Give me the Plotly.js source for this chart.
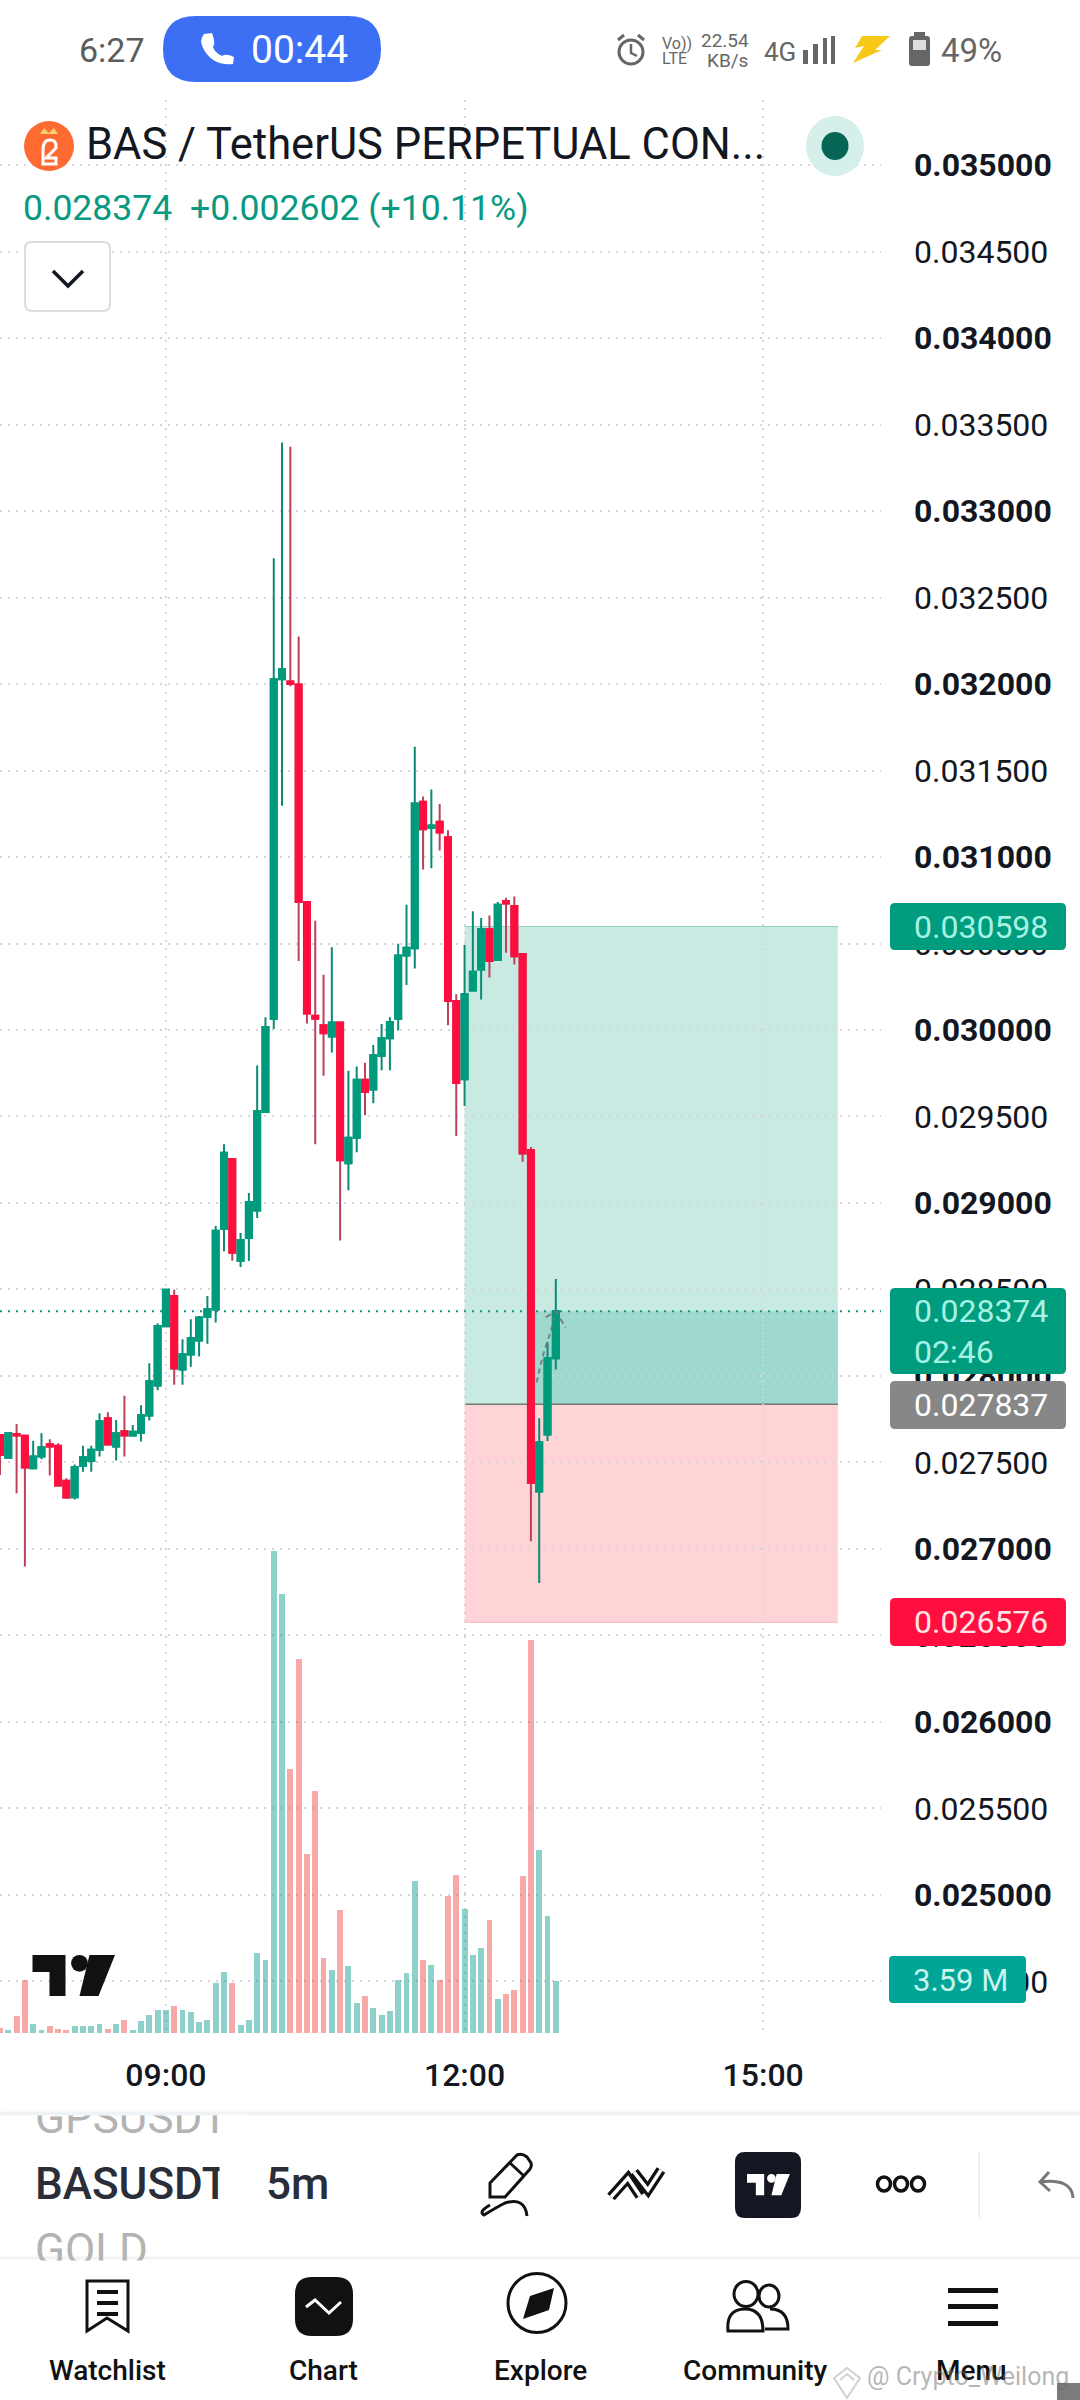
<!DOCTYPE html>
<html>
<head>
<meta charset="utf-8">
<script src="https://cdn.plot.ly/plotly-3.0.1.min.js"></script>
<style>html,body{margin:0;padding:0;background:#fff}#chart{width:1080px;height:2400px}</style>
</head>
<body>
<div id="chart"></div>
<script>
const times = ['07:20','07:25','07:30','07:35','07:40','07:45','07:50','07:55','08:00','08:05','08:10','08:15','08:20','08:25','08:30','08:35','08:40','08:45','08:50','08:55',
'09:00','09:05','09:10','09:15','09:20','09:25','09:30','09:35','09:40','09:45','09:50','09:55','10:00','10:05','10:10','10:15','10:20','10:25','10:30','10:35',
'10:40','10:45','10:50','10:55','11:00','11:05','11:10','11:15','11:20','11:25','11:30','11:35','11:40','11:45','11:50','11:55','12:00','12:05','12:10','12:15',
'12:20','12:25','12:30','12:35','12:40','12:45','12:50','12:55'];
const opens = [.027659,.027528,.027665,.027654,.027467,.027534,.027605,.027596,.027394,.027299,.02748,.027509,.027573,.027756,.027592,.027681,.027656,.027671,.027771,.027945,
.028288,.028463,.028037,.028124,.028205,.028343,.028384,.028851,.029254,.028666,.028798,.028956,.029526,.030065,.032028,.032015,.031997,.03074,.030083,.030028,
.029962,.030043,.029229,.029377,.029712,.029656,.029851,.029953,.030065,.03043,.030473,.031319,.031167,.031204,.031114,.030167,.029715,.030229,.03035,.030582,
.030405,.030745,.030717,.030439,.029306,.027332,.027661,.028102];
const highs = [.027659,.027669,.027723,.027654,.027625,.027669,.027634,.027611,.027409,.027488,.027596,.027596,.027785,.02779,.027746,.027885,.027717,.027831,.028074,.028305,
.028498,.028498,.028212,.028328,.028347,.028463,.028867,.02934,.029254,.028827,.029058,.029795,.030074,.032727,.033396,.033371,.032275,.03074,.030631,.030319,
.030479,.030049,.029764,.029789,.029811,.029913,.030034,.030074,.030498,.030724,.031637,.03135,.03139,.031306,.031154,.030207,.030492,.030687,.030647,.030662,
.03074,.030765,.030772,.030439,.029323,.027756,.028197,.02856];
const lows = [.027428,.027528,.027322,.026898,.027461,.027519,.027424,.027367,.027291,.027286,.027447,.027447,.027534,.027604,.027511,.027534,.027656,.027621,.027742,.027918,
.028288,.02795,.02795,.028054,.028112,.028187,.028309,.028721,.028666,.02863,.028665,.028913,.029526,.030006,.031297,.031987,.030399,.030037,.02934,.029736,
.02987,.028783,.029074,.029294,.029507,.029576,.029767,.029767,.029997,.03026,.030356,.030928,.030935,.031037,.030028,.029387,.02956,.030229,.030176,.030303,
.030399,.030446,.030378,.029238,.027044,.026803,.027624,.028038];
const closes = [.027544,.027669,.027656,.027471,.027534,.027588,.027592,.027367,.027297,.027473,.02753,.027573,.027738,.027604,.027669,.027656,.027677,.027773,.02797,.028289,
.028498,.028043,.028126,.028218,.028338,.028386,.02884,.029291,.028712,.028786,.029006,.029532,.030018,.032028,.032086,.032,.03074,.030096,.030065,.029981,
.030043,.029247,.029377,.029712,.029641,.029854,.029953,.030046,.03043,.030476,.031309,.031161,.031182,.031142,.030167,.029693,.030207,.030337,.030582,.030399,
.030724,.030731,.030426,.029286,.027383,.027617,.028102,.028374];
const volumes = [.37,.23,1.15,3.68,.60,.23,.46,.30,.23,.46,.51,.46,.64,.30,.60,.92,.18,.81,1.22,1.61,
1.56,1.84,1.61,1.43,.74,.92,3.45,4.23,3.45,.53,.92,5.54,5.01,33.24,30.27,18.24,25.78,12.37,16.68,5.20,
4.32,8.46,4.60,2.09,2.53,1.75,1.22,1.54,3.68,4.16,10.51,5.01,4.67,3.68,9.43,10.88,8.56,5.41,5.89,7.77,
2.37,2.71,2.99,10.81,27.09,12.65,8.05,3.59];
const priceTicks = [.035,.0345,.034,.0335,.033,.0325,.032,.0315,.031,.0305,.03,.0295,.029,.0285,.028,.0275,.027,.0265,.026,.0255,.025,.0245];
const priceTickLabels = ['<b>0.035000</b>','0.034500','<b>0.034000</b>','0.033500','<b>0.033000</b>','0.032500','<b>0.032000</b>','0.031500','<b>0.031000</b>','0.030500','<b>0.030000</b>','0.029500','<b>0.029000</b>','0.028500','<b>0.028000</b>','0.027500','<b>0.027000</b>','0.026500','<b>0.026000</b>','0.025500','<b>0.025000</b>','0.024500'];
const timeTicks = ['09:00','12:00','15:00'];
const targetPrice = .030598, entryPrice = .027837, stopPrice = .026576, lastPrice = .028374;
const arrowTimes = ['12:43:30','12:47','12:52','12:55'];
const arrowPrices = [.027963,.028109,.028262,.028374];
const arrowHeadTimes = ['12:49','12:55','13:01'];
const arrowHeadPrices = [.02834,.028374,.028279];

const D = t => '2024-01-01 ' + t;
const GREEN = '#009a7d', RED = '#fc0f3f';
const xs = times.map(D);
const isUp = i => closes[i] >= opens[i];

const traces = [
  {type:'bar', x:xs, y:volumes, yaxis:'y2', width:213000,
   marker:{color:volumes.map((v,i)=>isUp(i)?'rgba(38,166,154,.52)':'rgba(239,83,80,.5)'), line:{width:0}}, hoverinfo:'skip', showlegend:false},
  {type:'candlestick', x:xs, open:opens, high:highs, low:lows, close:closes, yaxis:'y', whiskerwidth:0,
   increasing:{line:{color:'#0b8a74',width:2}, fillcolor:GREEN}, decreasing:{line:{color:'#bd4159',width:2}, fillcolor:RED}, hoverinfo:'skip', showlegend:false},
  {type:'candlestick', x:xs, open:opens, close:closes, yaxis:'y', whiskerwidth:0,
   high:opens.map((o,i)=>Math.max(o,closes[i])), low:opens.map((o,i)=>Math.min(o,closes[i])),
   increasing:{line:{color:GREEN,width:2}, fillcolor:GREEN}, decreasing:{line:{color:RED,width:2}, fillcolor:RED}, hoverinfo:'skip', showlegend:false},
  {type:'scatter', mode:'lines', x:arrowTimes.map(D), y:arrowPrices, yaxis:'y', line:{color:'rgba(110,116,128,.85)',width:2,dash:'5px,4px',shape:'spline'}, hoverinfo:'skip', showlegend:false},
  {type:'scatter', mode:'lines', x:arrowHeadTimes.map(D), y:arrowHeadPrices, yaxis:'y', line:{color:'rgba(110,116,128,.85)',width:2,dash:'6px,4px'}, hoverinfo:'skip', showlegend:false}
];

/* page-chrome helpers: pixel positions on the screen mapped to paper space */
const W = 1080, H = 2400;
const px = x => x / W, py = y => 1 - y / H;
function sp(str){
  let isX = true;
  return str.trim().split(/\s+/).map(t=>{
    if(/^[MLQCZ]$/.test(t)){isX = true; return t;}
    const v = parseFloat(t); const r = isX ? px(v) : py(v); isX = !isX; return r.toFixed(6);
  }).join(' ');
}
const rr = (a,b,c,d,r) => `M ${a+r} ${b} L ${c-r} ${b} Q ${c} ${b} ${c} ${b+r} L ${c} ${d-r} Q ${c} ${d} ${c-r} ${d} L ${a+r} ${d} Q ${a} ${d} ${a} ${d-r} L ${a} ${b+r} Q ${a} ${b} ${a+r} ${b} Z`;
const shp = (d,fill,lc,lw) => ({type:'path', xref:'paper', yref:'paper', layer:'above', path:sp(d), fillcolor:fill||'rgba(0,0,0,0)', line:{color:lc||'rgba(0,0,0,0)', width:lw||0}});
const circ = (cx,cy,rx,ry,fill,lc,lw) => ({type:'circle', xref:'paper', yref:'paper', layer:'above', x0:px(cx-rx), x1:px(cx+rx), y0:py(cy-ry), y1:py(cy+ry), fillcolor:fill||'rgba(0,0,0,0)', line:{color:lc||'rgba(0,0,0,0)', width:lw||0}});
const rect = (a,b,c,d,fill) => shp(`M ${a} ${b} L ${c} ${b} L ${c} ${d} L ${a} ${d} Z`, fill);
const tvLogo = (x,y,k,fill) => [
  shp(`M ${x} ${y} L ${x+33*k} ${y} L ${x+33*k} ${y+41*k} L ${x+17*k} ${y+41*k} L ${x+17*k} ${y+17*k} L ${x} ${y+17*k} Z`, fill),
  circ(x+47*k, y+8.3*k, 8.4*k, 8.4*k, fill),
  shp(`M ${x+57*k} ${y} L ${x+82.5*k} ${y} L ${x+66*k} ${y+41*k} L ${x+47*k} ${y+41*k} Z`, fill)
];
const T = (text,x,y,size,color,o={}) => Object.assign({text, xref:'paper', yref:'paper', x:px(x), y:py(y), xanchor:'left', yanchor:'middle', showarrow:false, borderpad:0,
  font:{family:'Roboto, sans-serif', size, color, weight:o.weight||400}}, o.extra||{});
const cover = (a,b,c,d,bg) => ({text:' ', xref:'paper', yref:'paper', x:px(a), y:py(b), xanchor:'left', yanchor:'top', width:c-a, height:d-b, bgcolor:bg, showarrow:false, borderpad:0, font:{size:4}});

const shapes = [
  /* position tool, price-scaled */
  {type:'rect', layer:'below', xref:'x', yref:'y', x0:D('12:00'), x1:D('15:45'), y0:entryPrice, y1:targetPrice, fillcolor:'rgba(8,153,129,.22)', line:{width:0}},
  {type:'rect', layer:'below', xref:'x', yref:'y', x0:D('12:00'), x1:D('15:45'), y0:stopPrice, y1:entryPrice, fillcolor:'rgba(255,0,10,.17)', line:{width:0}},
  {type:'rect', layer:'below', xref:'x', yref:'y', x0:D('12:42'), x1:D('15:45'), y0:entryPrice, y1:lastPrice, fillcolor:'rgba(8,153,129,.22)', line:{width:0}},
  {type:'line', layer:'below', xref:'x', yref:'y', x0:D('12:00'), x1:D('15:45'), y0:entryPrice, y1:entryPrice, line:{color:'#777',width:1.5}},
  {type:'line', layer:'below', xref:'x', yref:'y', x0:D('12:00'), x1:D('15:45'), y0:targetPrice, y1:targetPrice, line:{color:'#8fd0c4',width:1}},
  {type:'line', layer:'below', xref:'x', yref:'y', x0:D('12:00'), x1:D('15:45'), y0:stopPrice, y1:stopPrice, line:{color:'#f8b6bc',width:1}},
  {type:'line', layer:'below', xref:'x', yref:'y', x0:D('07:20'), x1:D('16:11'), y0:lastPrice, y1:lastPrice, line:{color:'#089981',width:2,dash:'2px,6px'}},

  /* price tags */
  shp(rr(890,903,1066,950,5), '#009c7e'),
  shp(rr(890,1288,1066,1374,5), '#009c7e'),
  shp(rr(890,1381,1066,1429,5), '#878787'),
  shp(rr(890,1598,1066,1646,5), '#ff0f3f'),
  shp(rr(889,1956,1026,2003,4), '#00a597'),

  /* status bar */
  shp(rr(163,16,381,82,33), '#3d6ff5'),
  shp('M 204 34 L 212 33 Q 216 44 213 47 Q 215 53 222 56 Q 226 53 234 57 L 233 64 Q 212 66 203 48 Q 199 40 204 34 Z', '#fff'),
  circ(631,52,12,12,null,'#666',3),
  shp('M 631 44 L 631 53 L 637 56', null, '#666', 2.5),
  shp('M 618 40 L 624 35 M 638 35 L 644 40', null, '#666', 3),
  rect(803,50,808,64,'#666'), rect(813,44,818,64,'#666'), rect(823,38,827,64,'#666'), rect(831,36,835,64,'#666'),
  shp('M 862 36 L 890 36 L 875 50 L 882 50 L 853 63 L 864 46 L 855 48 Z', '#f8c818'),
  shp(rr(909,36,930,66,3), '#666'), rect(914,32,925,36,'#666'), rect(913,40,926,50,'#ddd'),

  /* header */
  circ(49,146,25,25,'#ff6a33'),
  shp('M 43 164 L 43 150 Q 43 140 50 140 Q 57 140 56 148 L 46 158 L 56 158 L 56 164 Z', 'rgba(0,0,0,0)', '#fff', 3),
  shp('M 40 134 L 44 128 L 49 133 L 54 128 L 58 134 Z', '#f4cf70'),
  circ(835,146,29,30,'#d5efea'),
  circ(835,146,13.5,14,'#056656'),
  shp(rr(25,242,110,311,7), '#fff', '#dcdcdc', 2),
  shp('M 53 271 L 68 286 L 83 271', null, '#131722', 3.5),

  ...tvLogo(32.5,1955,1,'#111'),

  /* separators */
  rect(0,2256.5,1080,2259.5,'#f0f3f6'),

  /* toolbar icons */
  shp('M 490 2197 L 490 2183 L 517 2155 Q 522 2153 527 2157 L 531 2163 Q 532 2166 530 2169 L 505 2197 Z', null, '#111', 3),
  shp('M 510 2163 L 524 2176', null, '#111', 3),
  shp('M 490 2205 Q 478 2212 484 2215 Q 497 2207 505 2203 Q 525 2197 527 2216', null, '#111', 3),
  shp('M 611 2197 L 628 2178 L 640 2196 M 634 2172 L 648 2190 L 661 2170', null, '#111', 10),
  shp('M 611 2197 L 628 2178 L 640 2196 M 634 2172 L 648 2190 L 661 2170', null, '#fff', 3.5),
  shp(rr(735,2152,801,2218,10), '#131722'),
  ...tvLogo(747,2174,.52,'#fff'),
  circ(884,2184,6.5,7,null,'#111',3.5), circ(901,2184,6.5,7,null,'#111',3.5), circ(918,2184,6.5,7,null,'#111',3.5),
  rect(978.5,2152,980,2218,'#eee'),
  shp('M 1049 2172 L 1040 2182 L 1050 2191 M 1040 2182 Q 1072 2178 1073 2198', null, '#777', 3),

  /* bottom tabs */
  shp('M 87 2281 L 128 2281 L 128 2331 L 107 2318 L 87 2331 Z', null, '#111', 3),
  rect(97,2290,118,2294,'#111'), rect(97,2301,118,2305,'#111'), rect(97,2312,118,2316,'#111'),
  shp(rr(295,2277,353,2336,17), '#111'),
  shp('M 306 2307 L 315 2300 L 329 2313 L 341 2302', null, '#fff', 3),
  circ(537,2303,29,29.5,null,'#111',3),
  shp('M 554 2288 L 549 2310 L 523 2319 L 530 2296 Z', '#111'),
  circ(746,2294,12,12.5,null,'#111',3), circ(769,2296,10,11,null,'#111',3),
  shp('M 728 2331 Q 726 2309 745 2309 Q 763 2309 763 2331 Z', null, '#111', 3),
  shp('M 770 2309 Q 788 2309 788 2329 L 765 2329', null, '#111', 3),
  rect(948,2288,998,2293,'#111'), rect(948,2304,998,2309,'#111'), rect(948,2321,998,2326,'#111'),

  /* watermark */
  shp('M 847 2368 L 860 2378 L 847 2398 L 834 2378 Z', null, 'rgba(120,120,120,.35)', 2),
  shp('M 840 2380 L 847 2374 L 854 2380', null, 'rgba(120,120,120,.35)', 2),
  rect(1057,2383,1080,2400,'#7b7b7b')
];

const annotations = [
  T('6:27',78,50,34,'#5c5c5c'),
  T('00:44',250,50,39,'#ffffff'),
  T('Vo))',661,44,16,'#666'), T('LTE',661,59,16,'#666'),
  T('22.54',700,40,19,'#666'), T('KB/s',706,60,19,'#666'),
  T('4G',763,52,26,'#666'),
  T('49%',940,51,33,'#666'),
  T('BAS / TetherUS PERPETUAL CON...',85,144,43.5,'#131722'),
  T('0.028374\u00a0\u00a0+0.002602 (+10.11%)',22,208,35.6,'#089981'),

  T('0.030598',913,927,32,'#a6f3e3'),
  T('0.028374',913,1311,32,'#a6f3e3'),
  T('02:46',913,1352,32,'#a6f3e3'),
  T('0.027837',913,1405,32,'#ffffff'),
  T('0.026576',913,1622,32,'#ffe3e3'),
  T('3.59 M',912,1980,31,'#c9f5ee'),

  T('GPSUSDT',34,2118,44,'#b3b3b3'),
  cover(0,2090,300,2112,'#ffffff'),
  cover(0,2111,1080,2114,'#f0f3f6'),
  cover(219,2114,245,2140,'#ffffff'),
  T('BASUSDT',34,2184,44,'#2a2e39',{weight:500}),
  cover(219,2160,245,2210,'#ffffff'),
  T('5m',265,2184,44,'#2a2e39',{weight:500}),
  T('GOLD',34,2250,44,'#b3b3b3'),
  cover(0,2259.5,300,2275,'#ffffff'),

  T('Watchlist',107,2370,28,'#111',{weight:500,extra:{xanchor:'center'}}),
  T('Chart',323,2370,28,'#111',{weight:500,extra:{xanchor:'center'}}),
  T('Explore',540,2370,28,'#111',{weight:500,extra:{xanchor:'center'}}),
  T('Community',755,2370,28,'#111',{weight:500,extra:{xanchor:'center'}}),
  T('Menu',971,2370,28,'#111',{weight:500,extra:{xanchor:'center'}}),
  T('@ Crypto_Weilong',866,2376,25,'rgba(110,110,110,.5)')
];

const layout = {
  width:W, height:H, margin:{l:0,r:0,t:0,b:0,pad:0},
  paper_bgcolor:'#fff', plot_bgcolor:'#fff', showlegend:false,
  boxgap:.28, boxgroupgap:0, boxmode:'overlay', bargap:0, barmode:'overlay',
  font:{family:'Roboto, sans-serif', color:'#131722'},
  xaxis:{type:'date', domain:[0,881/W], range:[D('07:20'),D('16:11')], tickmode:'array', tickvals:timeTicks.map(D), ticktext:timeTicks,
    rangeslider:{visible:false}, showgrid:true, gridcolor:'#d4d6da', gridwidth:2, griddash:'2px,6px', zeroline:false, showline:false, ticks:'',
    ticklabelstandoff:20, tickfont:{family:'Roboto, sans-serif', size:32, color:'#131722', weight:500}, fixedrange:true},
  yaxis:{domain:[py(2033),py(100)], range:[.024202,.035376], side:'right', anchor:'x', tickmode:'array', tickvals:priceTicks, ticktext:priceTickLabels,
    showgrid:true, gridcolor:'#d4d6da', gridwidth:2, griddash:'2px,6px', zeroline:false, showline:false, ticks:'',
    ticklabelstandoff:32, tickfont:{family:'Roboto, sans-serif', size:32, color:'#131722'}, automargin:false, fixedrange:true},
  yaxis2:{overlaying:'y', domain:[py(2033),py(100)], range:[0,133.4], visible:false, showgrid:false, zeroline:false, fixedrange:true},
  shapes, annotations
};
Plotly.newPlot('chart', traces, layout, {displayModeBar:false, staticPlot:true, responsive:false});
</script>
</body>
</html>
